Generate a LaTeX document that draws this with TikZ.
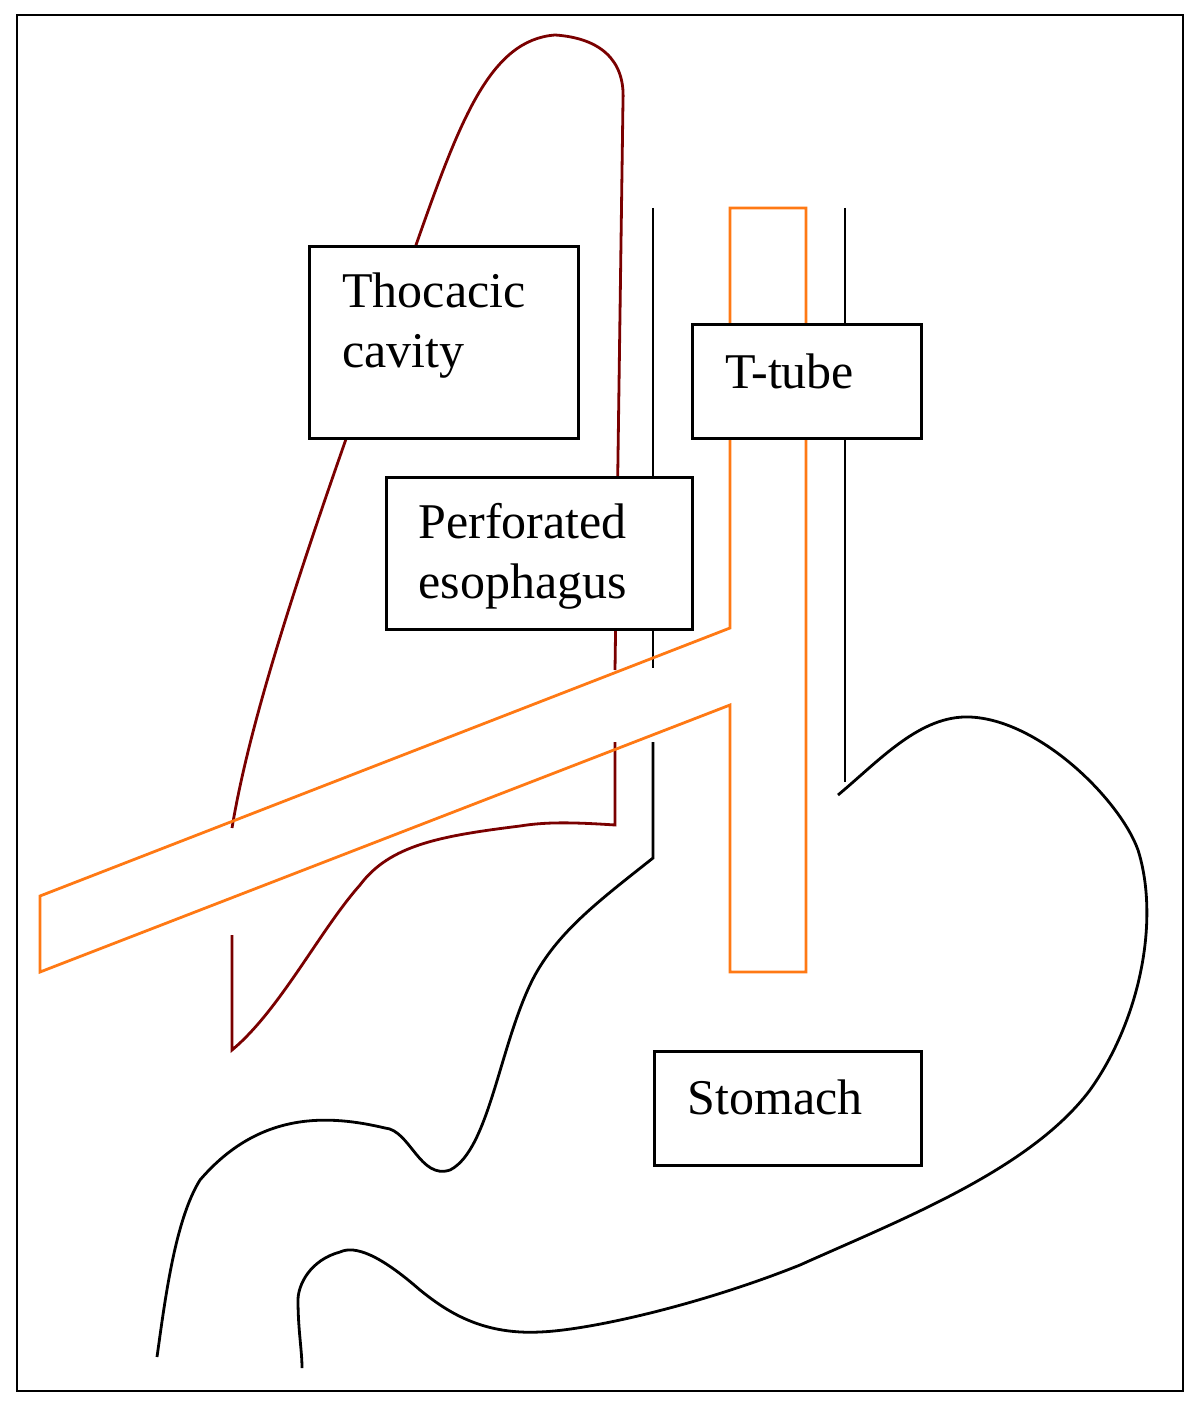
\documentclass[tikz,border=0pt]{standalone}
\usepackage{fontspec}
\setmainfont{Liberation Serif}
\begin{document}
\begin{tikzpicture}[x=0.5pt,y=-0.5pt,
  red/.style={draw={rgb,255:red,122;green,0;blue,0},line width=1.4pt},
  blk/.style={draw=black,line width=1.4pt},
  org/.style={draw={rgb,255:red,255;green,121;blue,20},line width=1.4pt},
  box/.style={draw=black,line width=1.4pt,fill=white},
  lbl/.style={anchor=north west,font=\fontsize{25}{30}\selectfont,align=left,inner sep=0pt}]
\useasboundingbox (0,0) rectangle (1200,1406);
\draw[blk] (17,15) rectangle (1183,1391);
% thoracic cavity
\draw[red] (232,828) .. controls (250,720) and (300,560) .. (416,245)
  .. controls (460,120) and (490,40) .. (555,35)
  .. controls (600,38) and (625,60) .. (623,100)
  -- (615,670);
\draw[red] (615,742) -- (615,825) .. controls (570,822) and (545,822) .. (520,826)
  .. controls (440,836) and (390,845) .. (360,885)
  .. controls (320,930) and (280,1010) .. (232,1050) -- (232,935);
% esophagus
\draw[blk] (653,208) -- (653,668);
\draw[blk] (653,742) -- (653,858) .. controls (600,900) and (560,930) .. (535,975)
  .. controls (500,1040) and (490,1150) .. (450,1170)
  .. controls (420,1180) and (410,1130) .. (385,1128)
  .. controls (330,1115) and (260,1110) .. (200,1180)
  .. controls (175,1220) and (165,1300) .. (157,1357);
\draw[blk] (845,208) -- (845,782);
\draw[blk] (838,795) .. controls (880,760) and (920,715) .. (970,717)
  .. controls (1040,720) and (1120,800) .. (1138,850)
  .. controls (1160,920) and (1140,1020) .. (1090,1090)
  .. controls (1030,1170) and (900,1220) .. (800,1265)
  .. controls (700,1305) and (590,1330) .. (540,1332)
  .. controls (480,1335) and (445,1310) .. (420,1290)
  .. controls (380,1255) and (355,1245) .. (340,1252)
  .. controls (310,1260) and (298,1285) .. (298,1300)
  .. controls (298,1330) and (302,1350) .. (302,1368);
% T-tube
\draw[org] (730,208) -- (806,208) -- (806,972) -- (730,972) -- (730,705) -- (40,972) -- (40,896) -- (730,628) -- cycle;
% boxes
\node[box,minimum width=134.5pt,minimum height=96pt,anchor=north west] (tc) at (308,245) {};
\node[lbl] at (342,272) {Thocacic\\cavity};
\node[box,minimum width=114.5pt,minimum height=57pt,anchor=north west] (tt) at (691,323) {};
\node[lbl] at (725,353) {T-tube};
\node[box,minimum width=153pt,minimum height=76pt,anchor=north west] (pe) at (385,476) {};
\node[lbl] at (418,503) {Perforated\\esophagus};
\node[box,minimum width=133.5pt,minimum height=57pt,anchor=north west] (st) at (653,1050) {};
\node[lbl] at (687,1079) {Stomach};
\end{tikzpicture}
\end{document}
